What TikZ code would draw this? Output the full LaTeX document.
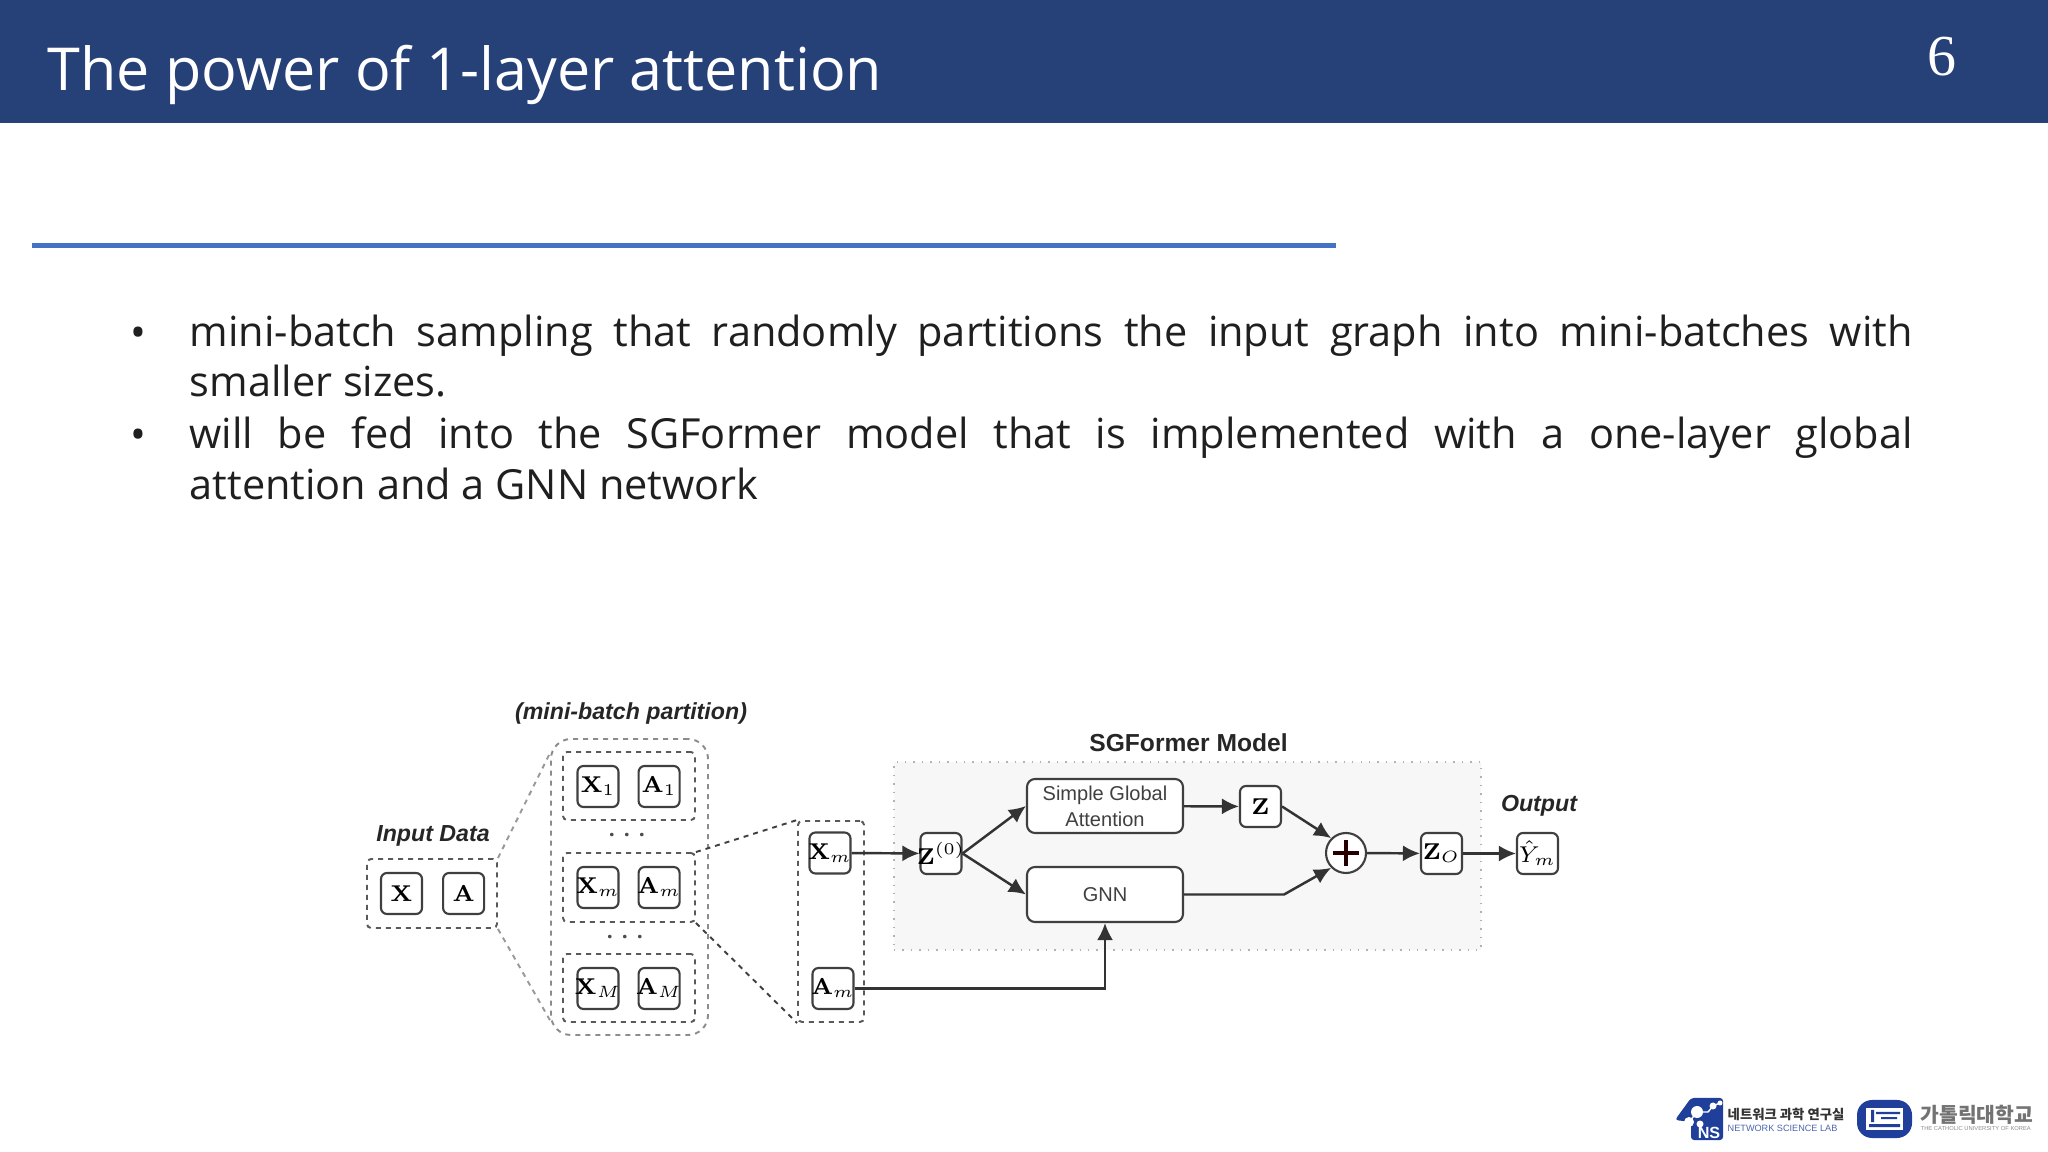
\documentclass[tikz,border=0pt]{standalone}
\usepackage[no-math]{fontspec}
\usepackage{amsmath,amssymb}
\usepackage{tikz}
\usetikzlibrary{arrows.meta,positioning}
\setmainfont{Open Sans}
\newfontfamily\figfont{Liberation Sans}
\newfontfamily\krfont{Noto Sans CJK KR}
\newfontfamily\numfont{Liberation Serif}
\definecolor{HeadBlue}{HTML}{264078}
\definecolor{RuleBlue}{HTML}{4472C4}
\definecolor{LogoBlue}{HTML}{1F3F9A}
\definecolor{EdgeGrey}{HTML}{3F3F3F}
\newcommand{\cellsym}[1]{\makebox[0pt]{\scalebox{0.93}{$#1$}}}
\begin{document}
\begin{tikzpicture}[
  x=0.1mm,y=-0.1mm,
  every node/.style={inner sep=0pt},
  bodytext/.style={anchor=north west,text width=172.3mm,align=justify,
                   font=\fontsize{11.8}{14.4}\selectfont,text=black!88},
  bulletmark/.style={font=\fontsize{12}{14.4}\selectfont,text=black!88},
  cell/.style={draw=EdgeGrey,fill=white,rounded corners=0.6mm,line width=0.6pt,
               minimum width=4.1mm,minimum height=4.1mm,font=\scriptsize},
  block/.style={draw=EdgeGrey,fill=white,rounded corners=0.8mm,line width=0.6pt,
                minimum width=15.6mm,font=\figfont\fontsize{5.7}{7.4}\selectfont,
                text=black!75,align=center},
  group/.style={draw=black!65,line width=0.55pt,dash pattern=on 0.5mm off 0.5mm,
                rounded corners=0.4mm},
  caption/.style={font=\figfont\bfseries\itshape\fontsize{6.6}{8}\selectfont,text=black!85},
  link/.style={-{Latex[length=1.7mm,width=1.6mm]},draw=black!80,line width=0.7pt},
  spread/.style={draw=black!40,line width=0.55pt,dash pattern=on 0.5mm off 0.5mm},
  zoomin/.style={draw=black!75,line width=0.55pt,dash pattern=on 0.5mm off 0.5mm}
]
  \useasboundingbox (0,0) rectangle (2048,1152);
  % header
  \fill[HeadBlue] (0,0) rectangle (2048,123);
  \node[anchor=west,text=white,font=\fontsize{16.85}{20}\selectfont] (title) at (47,75)
    {The power of 1-layer attention};
  \node[text=white,font=\numfont\fontsize{16.5}{18}\selectfont] (pageno) at (1942,57) {6};
  \fill[RuleBlue] (32,243) rectangle (1336,248);
  % bullets
  \node[bodytext] (first) at (189,314)
    {mini-batch sampling that randomly partitions the input graph into mini-batches with\linebreak smaller sizes.};
  \node[bodytext] (second) at (189,416)
    {will be fed into the SGFormer model that is implemented with a one-layer global\linebreak attention and a GNN network};
  \node[bulletmark] (dota) at (138,337) {•};
  \node[bulletmark] (dotb) at (138,439) {•};

  % input data
  \node[caption] (inlabel) at (433,836) {Input Data};
  \node[group,minimum width=13mm,minimum height=6.9mm] (inbox) at (432,893.5) {};
  \node[cell] (X) at (401.5,893.5) {\cellsym{\mathbf{X}}};
  \node[cell,right=1.9mm of X] (A) {\cellsym{\mathbf{A}}};

  % mini-batch partition
  \node[caption] (partlabel) at (631,714) {(mini-batch partition)};
  \node[group,rounded corners=2mm,draw=black!45,minimum width=15.7mm,minimum height=29.6mm] (outer) at (629.5,887) {};
  \node[group,minimum width=13.2mm,minimum height=6.8mm] (boxa) at (629,786) {};
  \node[group,minimum width=13.2mm,minimum height=6.9mm] (boxb) at (629,887.5) {};
  \node[group,minimum width=13.2mm,minimum height=6.8mm] (boxc) at (629,988) {};
  \node[cell] (Xa) at (598,786.5) {\cellsym{\mathbf{X}_1}};
  \node[cell,right=1.8mm of Xa] (Aa) {\cellsym{\mathbf{A}_1}};
  \node[cell] (Xb) at (598,887.5) {\cellsym{\mathbf{X}_m}};
  \node[cell,right=1.8mm of Xb] (Ab) {\cellsym{\mathbf{A}_m}};
  \node[cell] (Xc) at (598,988.5) {\cellsym{\mathbf{X}_M}};
  \node[cell,right=1.8mm of Xc] (Ac) {\cellsym{\mathbf{A}_M}};
  \node[font=\bfseries\fontsize{6}{7}\selectfont,text=black!70] (dotsa) at (627,835) {.\hspace{0.9mm}.\hspace{0.9mm}.};
  \node[font=\bfseries\fontsize{6}{7}\selectfont,text=black!70] (dotsb) at (625,937) {.\hspace{0.9mm}.\hspace{0.9mm}.};

  % selected batch
  \node[group,minimum width=6.6mm,minimum height=20.1mm] (column) at (831,921.5) {};
  \node[cell] (Xs) at (830,853) {\cellsym{\mathbf{X}_m}};
  \node[cell] (As) at (833,988.5) {\cellsym{\mathbf{A}_m}};

  \coordinate (outtop) at (549,755);
  \coordinate (outbot) at (551,1022);
  \draw[spread] (inbox.north east) -- (outtop);
  \draw[spread] (inbox.south east) -- (outbot);
  \draw[zoomin] (boxb.north east) -- (column.north west);
  \draw[zoomin] (boxb.south east) -- (column.south west);

  % model
  \node[draw=black!30,fill=black!3,line width=0.4pt,dotted,minimum width=58.7mm,minimum height=18.8mm] (model) at (1187.5,856) {};
  \node[font=\figfont\bfseries\fontsize{7}{8}\selectfont,text=black!85] (modellabel) at (1188.5,743) {SGFormer Model};
  \node[cell] (Zz) at (941,853.5) {\cellsym{\mathbf{Z}^{(0)}}};
  \node[block,minimum height=5.4mm] (sga) at (1105,806) {Simple Global\\Attention};
  \node[block,minimum height=5.5mm] (gnn) at (1105,894.5) {GNN};
  \node[cell] (Z) at (1260.5,806.5) {\cellsym{\mathbf{Z}}};
  \node[circle,draw=EdgeGrey,fill=white,line width=0.6pt,minimum size=4mm,
    path picture={\draw[line width=0.9pt,draw=black!85!red]
      (path picture bounding box.center) ++(-1.3mm,0) -- ++(2.6mm,0)
      (path picture bounding box.center) ++(0,-1.3mm) -- ++(0,2.6mm);}] (plus) at (1346,853) {};
  \node[cell] (Zo) at (1441.5,853.5) {\cellsym{\mathbf{Z}_O}};
  \node[cell] (Yh) at (1537.5,853.5) {\cellsym{\hat{Y}_m}};
  \node[caption] (outlabel) at (1539,806) {Output};

  \draw[link] (Xs) -- (Zz);
  \draw[link] (Zz.east) -- (sga.west);
  \draw[link] (Zz.east) -- (gnn.west);
  \draw[link] (sga) -- (Z);
  \draw[link] (Z.east) -- (plus.135);
  \draw[link] (gnn.east) -- ++(100,0) -- (plus.225);
  \draw[link] (plus) -- (Zo);
  \draw[link] (Zo) -- (Yh);
  \draw[link] (As.east) -- (gnn.south |- As.east) -- (gnn.south);

  % logos
  \fill[LogoBlue,rounded corners=0.3mm] (1675,1120) -- (1691,1098) -- (1723,1098) -- (1723,1140) -- (1691,1140) -- (1691,1122) -- cycle;
  \foreach \px/\py/\pr in {1697/1112/6,1689/1122/5,1700/1124/3.5,1713/1106/3.5,1720/1103/2.5}
    \fill[white] (\px,\py) circle[radius=\pr];
  \draw[white,line width=0.4pt] (1689,1122) -- (1697,1112) -- (1708,1112) -- (1713,1106) -- (1720,1103);
  \node[text=white,font=\figfont\bfseries\fontsize{4.6}{6}\selectfont] (nslogo) at (1709,1133) {NS};
  \node[text=black!80,font=\krfont\bfseries\fontsize{3.8}{5}\selectfont,anchor=west] (labko) at (1727,1114) {네트워크 과학 연구실};
  \node[text=LogoBlue!80,font=\figfont\fontsize{2.6}{3}\selectfont,anchor=west] (laben) at (1727,1128) {NETWORK SCIENCE LAB};
  \fill[LogoBlue,rounded corners=1.5mm] (1857,1100) rectangle (1912,1138);
  \fill[white] (1866,1108) rectangle (1903,1130);
  \fill[LogoBlue] (1871,1110) rectangle (1874,1122) (1876,1112) rectangle (1900,1114) (1881,1117) rectangle (1897,1119) (1869,1124) rectangle (1900,1127);
  \node[text=black!55,font=\krfont\bfseries\fontsize{5.8}{7}\selectfont,anchor=west] (uniko) at (1920,1115) {가톨릭대학교};
  \node[text=black!45,font=\figfont\fontsize{1.65}{2}\selectfont,anchor=west] (unien) at (1920,1129) {THE CATHOLIC UNIVERSITY OF KOREA};
\end{tikzpicture}
\end{document}
